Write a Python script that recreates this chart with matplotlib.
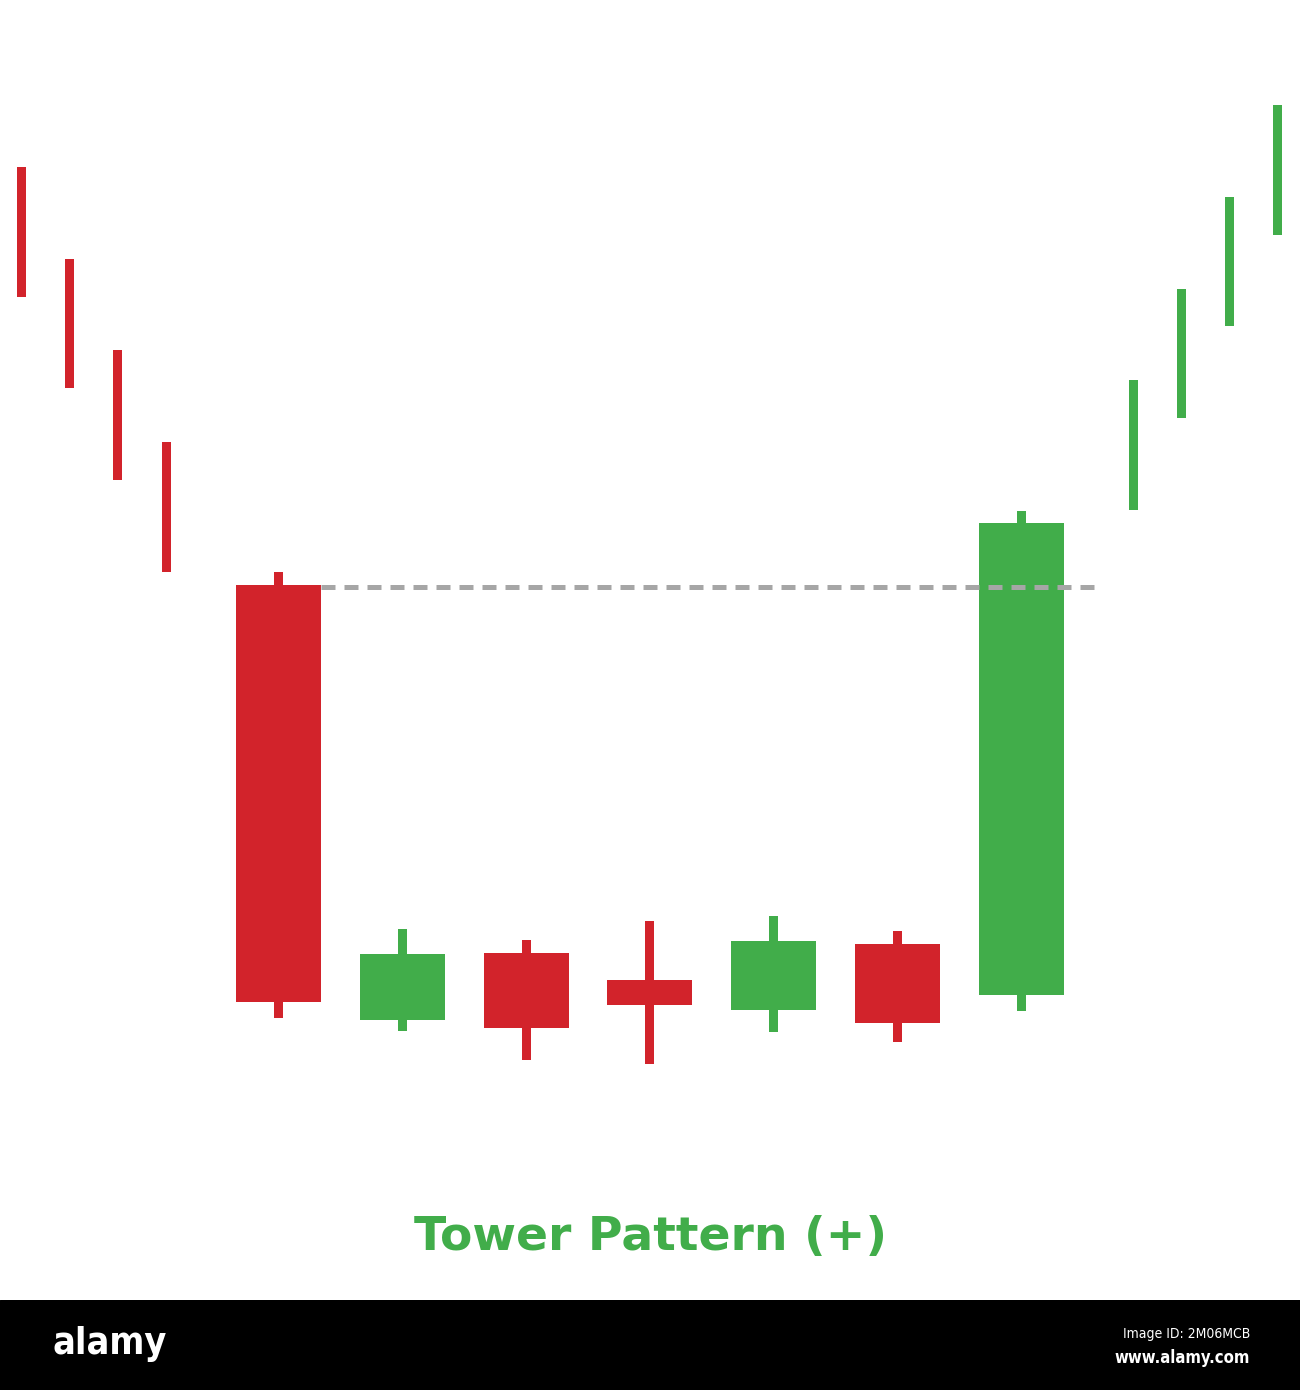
import matplotlib.pyplot as plt
from matplotlib.patches import Rectangle

RED = '#d2232b'
GREEN = '#41ad4a'
GREY = '#a6a6a6'

# price scale: 0 at the bottom of the chart area, 1300 at the top
# thin trend candles before and after the pattern
down_x = [21.5, 69.5, 117.5, 166.5]
down_high = [1133, 1041, 950, 858]
down_low = [1003, 912, 820, 728]

up_x = [1133.5, 1181.5, 1229.5, 1277.5]
up_low = [790, 882, 974, 1065]
up_high = [920, 1011, 1103, 1195]

# the tower pattern candles
cx = [278.5, 402.3, 526.1, 649.9, 773.7, 897.5, 1021.3]
opens = [715, 280, 347, 320, 290, 356, 305]
highs = [728, 371, 360, 379, 384, 369, 789]
lows = [282, 269, 240, 236, 268, 258, 289]
closes = [298, 346, 272, 295, 359, 277, 777]

level = 713
level_x = [321, 1101]

title = 'Tower Pattern (+)'

fig = plt.figure(figsize=(13, 13.9), dpi=100)
ax = fig.add_axes([0, 90 / 1390, 1, 1300 / 1390])
ax.set_xlim(0, 1300)
ax.set_ylim(0, 1300)
ax.axis('off')

# trend candles as thin bars
ax.bar(down_x, [h - l for h, l in zip(down_high, down_low)], bottom=down_low,
       width=9, color=RED, linewidth=0)
ax.bar(up_x, [h - l for h, l in zip(up_high, up_low)], bottom=up_low,
       width=9, color=GREEN, linewidth=0)

# breakout level
ax.hlines(level, level_x[0], level_x[1], colors=GREY, linewidth=3.6,
          linestyles=(0, (2.8, 1.8)), zorder=3)

for x, o, h, l, c in zip(cx, opens, highs, lows, closes):
    col = GREEN if c > o else RED
    ax.bar(x, h - l, bottom=l, width=9, color=col, linewidth=0, zorder=2)
    ax.bar(x, abs(c - o), bottom=min(o, c), width=85, color=col, linewidth=0, zorder=2)

fig.text(0.5, 1 - 1238 / 1390, title, ha='center', va='center',
         fontsize=34, fontweight='bold', color=GREEN, family='DejaVu Sans')

# footer band
band = fig.add_axes([0, 0, 1, 90 / 1390])
band.set_xlim(0, 1300)
band.set_ylim(90, 0)
band.axis('off')
band.add_patch(Rectangle((0, 0), 1300, 90, color='black'))
band.text(52, 44, 'alamy', ha='left', va='center', color='white', fontsize=27,
          fontweight='bold', fontstretch='condensed',
          family=['Liberation Sans Narrow', 'DejaVu Sans'])
band.text(1250, 34, 'Image ID: 2M06MCB', ha='right', va='center', color='white',
          fontsize=10, fontstretch='condensed',
          family=['Liberation Sans Narrow', 'DejaVu Sans'])
band.text(1250, 58, 'www.alamy.com', ha='right', va='center', color='white',
          fontsize=12, fontweight='bold', fontstretch='condensed',
          family=['Liberation Sans Narrow', 'DejaVu Sans'])

fig.savefig('out.png', dpi=100, facecolor='white')
